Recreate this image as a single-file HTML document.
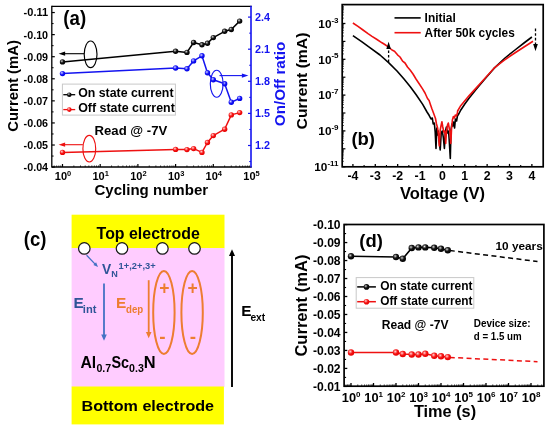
<!DOCTYPE html>
<html lang="en">
<head>
<meta charset="utf-8">
<title>Figure</title>
<style>
html,body{margin:0;padding:0;background:#fff;}
body{width:550px;height:431px;overflow:hidden;}
svg{display:block;font-family:"Liberation Sans", sans-serif;}
</style>
</head>
<body>
<svg width="550" height="431" viewBox="0 0 550 431">
<defs>
<radialGradient id="gk" cx="0.38" cy="0.36" r="0.64"><stop offset="0" stop-color="#ececec"/><stop offset="0.2" stop-color="#808080"/><stop offset="0.5" stop-color="#141414"/><stop offset="1" stop-color="#000"/></radialGradient>
<radialGradient id="gr" cx="0.38" cy="0.36" r="0.64"><stop offset="0" stop-color="#ffe6e6"/><stop offset="0.22" stop-color="#ff8080"/><stop offset="0.55" stop-color="#f41414"/><stop offset="1" stop-color="#e60000"/></radialGradient>
<radialGradient id="gb" cx="0.38" cy="0.36" r="0.64"><stop offset="0" stop-color="#e6e6ff"/><stop offset="0.22" stop-color="#8080ff"/><stop offset="0.55" stop-color="#1414f4"/><stop offset="1" stop-color="#0000e6"/></radialGradient>
</defs>
<rect x="0" y="0" width="550" height="431" fill="#fff"/>

<g id="panel-a">
<line x1="51.80" y1="6.40" x2="251.70" y2="6.40" stroke="#000" stroke-width="1.25"/>
<line x1="51.80" y1="5.80" x2="51.80" y2="167.60" stroke="#000" stroke-width="1.3"/>
<line x1="51.80" y1="167.00" x2="251.70" y2="167.00" stroke="#000" stroke-width="1.3"/>
<line x1="251.00" y1="5.80" x2="251.00" y2="167.60" stroke="#1414f0" stroke-width="1.6"/>
<line x1="51.80" y1="167.10" x2="54.80" y2="167.10" stroke="#000" stroke-width="1.2"/>
<text x="48.10" y="171.00" font-size="11.1" text-anchor="end" fill="#000" font-weight="bold" textLength="24.50" lengthAdjust="spacingAndGlyphs">-0.04</text>
<line x1="51.80" y1="145.02" x2="54.80" y2="145.02" stroke="#000" stroke-width="1.2"/>
<text x="48.10" y="148.92" font-size="11.1" text-anchor="end" fill="#000" font-weight="bold" textLength="24.50" lengthAdjust="spacingAndGlyphs">-0.05</text>
<line x1="51.80" y1="122.94" x2="54.80" y2="122.94" stroke="#000" stroke-width="1.2"/>
<text x="48.10" y="126.84" font-size="11.1" text-anchor="end" fill="#000" font-weight="bold" textLength="24.50" lengthAdjust="spacingAndGlyphs">-0.06</text>
<line x1="51.80" y1="100.86" x2="54.80" y2="100.86" stroke="#000" stroke-width="1.2"/>
<text x="48.10" y="104.76" font-size="11.1" text-anchor="end" fill="#000" font-weight="bold" textLength="24.50" lengthAdjust="spacingAndGlyphs">-0.07</text>
<line x1="51.80" y1="78.78" x2="54.80" y2="78.78" stroke="#000" stroke-width="1.2"/>
<text x="48.10" y="82.68" font-size="11.1" text-anchor="end" fill="#000" font-weight="bold" textLength="24.50" lengthAdjust="spacingAndGlyphs">-0.08</text>
<line x1="51.80" y1="56.70" x2="54.80" y2="56.70" stroke="#000" stroke-width="1.2"/>
<text x="48.10" y="60.60" font-size="11.1" text-anchor="end" fill="#000" font-weight="bold" textLength="24.50" lengthAdjust="spacingAndGlyphs">-0.09</text>
<line x1="51.80" y1="34.62" x2="54.80" y2="34.62" stroke="#000" stroke-width="1.2"/>
<text x="48.10" y="38.52" font-size="11.1" text-anchor="end" fill="#000" font-weight="bold" textLength="24.50" lengthAdjust="spacingAndGlyphs">-0.10</text>
<line x1="51.80" y1="12.54" x2="54.80" y2="12.54" stroke="#000" stroke-width="1.2"/>
<text x="48.10" y="16.44" font-size="11.1" text-anchor="end" fill="#000" font-weight="bold" textLength="24.50" lengthAdjust="spacingAndGlyphs">-0.11</text>
<line x1="51.80" y1="156.06" x2="53.60" y2="156.06" stroke="#000" stroke-width="1.0"/>
<line x1="51.80" y1="133.98" x2="53.60" y2="133.98" stroke="#000" stroke-width="1.0"/>
<line x1="51.80" y1="111.90" x2="53.60" y2="111.90" stroke="#000" stroke-width="1.0"/>
<line x1="51.80" y1="89.82" x2="53.60" y2="89.82" stroke="#000" stroke-width="1.0"/>
<line x1="51.80" y1="67.74" x2="53.60" y2="67.74" stroke="#000" stroke-width="1.0"/>
<line x1="51.80" y1="45.66" x2="53.60" y2="45.66" stroke="#000" stroke-width="1.0"/>
<line x1="51.80" y1="23.58" x2="53.60" y2="23.58" stroke="#000" stroke-width="1.0"/>
<line x1="248.00" y1="145.50" x2="251.00" y2="145.50" stroke="#1414f0" stroke-width="1.2"/>
<text x="255.00" y="149.40" font-size="10.8" text-anchor="start" fill="#1414f0" font-weight="bold">1.2</text>
<line x1="248.00" y1="113.40" x2="251.00" y2="113.40" stroke="#1414f0" stroke-width="1.2"/>
<text x="255.00" y="117.30" font-size="10.8" text-anchor="start" fill="#1414f0" font-weight="bold">1.5</text>
<line x1="248.00" y1="81.30" x2="251.00" y2="81.30" stroke="#1414f0" stroke-width="1.2"/>
<text x="255.00" y="85.20" font-size="10.8" text-anchor="start" fill="#1414f0" font-weight="bold">1.8</text>
<line x1="248.00" y1="49.20" x2="251.00" y2="49.20" stroke="#1414f0" stroke-width="1.2"/>
<text x="255.00" y="53.10" font-size="10.8" text-anchor="start" fill="#1414f0" font-weight="bold">2.1</text>
<line x1="248.00" y1="17.10" x2="251.00" y2="17.10" stroke="#1414f0" stroke-width="1.2"/>
<text x="255.00" y="21.00" font-size="10.8" text-anchor="start" fill="#1414f0" font-weight="bold">2.4</text>
<line x1="249.20" y1="161.55" x2="251.00" y2="161.55" stroke="#1414f0" stroke-width="1.0"/>
<line x1="249.20" y1="129.45" x2="251.00" y2="129.45" stroke="#1414f0" stroke-width="1.0"/>
<line x1="249.20" y1="97.35" x2="251.00" y2="97.35" stroke="#1414f0" stroke-width="1.0"/>
<line x1="249.20" y1="65.25" x2="251.00" y2="65.25" stroke="#1414f0" stroke-width="1.0"/>
<line x1="249.20" y1="33.15" x2="251.00" y2="33.15" stroke="#1414f0" stroke-width="1.0"/>
<line x1="62.50" y1="167.00" x2="62.50" y2="164.00" stroke="#000" stroke-width="1.2"/>
<text x="63.00" y="180.00" font-size="11" text-anchor="middle" fill="#000" font-weight="bold">10<tspan font-size="7.48" dy="-4.5">0</tspan></text>
<line x1="73.85" y1="167.00" x2="73.85" y2="165.40" stroke="#000" stroke-width="0.7"/>
<line x1="80.49" y1="167.00" x2="80.49" y2="165.40" stroke="#000" stroke-width="0.7"/>
<line x1="85.20" y1="167.00" x2="85.20" y2="165.40" stroke="#000" stroke-width="0.7"/>
<line x1="88.85" y1="167.00" x2="88.85" y2="165.40" stroke="#000" stroke-width="0.7"/>
<line x1="91.84" y1="167.00" x2="91.84" y2="165.40" stroke="#000" stroke-width="0.7"/>
<line x1="94.36" y1="167.00" x2="94.36" y2="165.40" stroke="#000" stroke-width="0.7"/>
<line x1="96.55" y1="167.00" x2="96.55" y2="165.40" stroke="#000" stroke-width="0.7"/>
<line x1="98.47" y1="167.00" x2="98.47" y2="165.40" stroke="#000" stroke-width="0.7"/>
<line x1="100.20" y1="167.00" x2="100.20" y2="164.00" stroke="#000" stroke-width="1.2"/>
<text x="100.70" y="180.00" font-size="11" text-anchor="middle" fill="#000" font-weight="bold">10<tspan font-size="7.48" dy="-4.5">1</tspan></text>
<line x1="111.55" y1="167.00" x2="111.55" y2="165.40" stroke="#000" stroke-width="0.7"/>
<line x1="118.19" y1="167.00" x2="118.19" y2="165.40" stroke="#000" stroke-width="0.7"/>
<line x1="122.90" y1="167.00" x2="122.90" y2="165.40" stroke="#000" stroke-width="0.7"/>
<line x1="126.55" y1="167.00" x2="126.55" y2="165.40" stroke="#000" stroke-width="0.7"/>
<line x1="129.54" y1="167.00" x2="129.54" y2="165.40" stroke="#000" stroke-width="0.7"/>
<line x1="132.06" y1="167.00" x2="132.06" y2="165.40" stroke="#000" stroke-width="0.7"/>
<line x1="134.25" y1="167.00" x2="134.25" y2="165.40" stroke="#000" stroke-width="0.7"/>
<line x1="136.17" y1="167.00" x2="136.17" y2="165.40" stroke="#000" stroke-width="0.7"/>
<line x1="137.90" y1="167.00" x2="137.90" y2="164.00" stroke="#000" stroke-width="1.2"/>
<text x="138.40" y="180.00" font-size="11" text-anchor="middle" fill="#000" font-weight="bold">10<tspan font-size="7.48" dy="-4.5">2</tspan></text>
<line x1="149.25" y1="167.00" x2="149.25" y2="165.40" stroke="#000" stroke-width="0.7"/>
<line x1="155.89" y1="167.00" x2="155.89" y2="165.40" stroke="#000" stroke-width="0.7"/>
<line x1="160.60" y1="167.00" x2="160.60" y2="165.40" stroke="#000" stroke-width="0.7"/>
<line x1="164.25" y1="167.00" x2="164.25" y2="165.40" stroke="#000" stroke-width="0.7"/>
<line x1="167.24" y1="167.00" x2="167.24" y2="165.40" stroke="#000" stroke-width="0.7"/>
<line x1="169.76" y1="167.00" x2="169.76" y2="165.40" stroke="#000" stroke-width="0.7"/>
<line x1="171.95" y1="167.00" x2="171.95" y2="165.40" stroke="#000" stroke-width="0.7"/>
<line x1="173.87" y1="167.00" x2="173.87" y2="165.40" stroke="#000" stroke-width="0.7"/>
<line x1="175.60" y1="167.00" x2="175.60" y2="164.00" stroke="#000" stroke-width="1.2"/>
<text x="176.10" y="180.00" font-size="11" text-anchor="middle" fill="#000" font-weight="bold">10<tspan font-size="7.48" dy="-4.5">3</tspan></text>
<line x1="186.95" y1="167.00" x2="186.95" y2="165.40" stroke="#000" stroke-width="0.7"/>
<line x1="193.59" y1="167.00" x2="193.59" y2="165.40" stroke="#000" stroke-width="0.7"/>
<line x1="198.30" y1="167.00" x2="198.30" y2="165.40" stroke="#000" stroke-width="0.7"/>
<line x1="201.95" y1="167.00" x2="201.95" y2="165.40" stroke="#000" stroke-width="0.7"/>
<line x1="204.94" y1="167.00" x2="204.94" y2="165.40" stroke="#000" stroke-width="0.7"/>
<line x1="207.46" y1="167.00" x2="207.46" y2="165.40" stroke="#000" stroke-width="0.7"/>
<line x1="209.65" y1="167.00" x2="209.65" y2="165.40" stroke="#000" stroke-width="0.7"/>
<line x1="211.57" y1="167.00" x2="211.57" y2="165.40" stroke="#000" stroke-width="0.7"/>
<line x1="213.30" y1="167.00" x2="213.30" y2="164.00" stroke="#000" stroke-width="1.2"/>
<text x="213.80" y="180.00" font-size="11" text-anchor="middle" fill="#000" font-weight="bold">10<tspan font-size="7.48" dy="-4.5">4</tspan></text>
<line x1="224.65" y1="167.00" x2="224.65" y2="165.40" stroke="#000" stroke-width="0.7"/>
<line x1="231.29" y1="167.00" x2="231.29" y2="165.40" stroke="#000" stroke-width="0.7"/>
<line x1="236.00" y1="167.00" x2="236.00" y2="165.40" stroke="#000" stroke-width="0.7"/>
<line x1="239.65" y1="167.00" x2="239.65" y2="165.40" stroke="#000" stroke-width="0.7"/>
<line x1="242.64" y1="167.00" x2="242.64" y2="165.40" stroke="#000" stroke-width="0.7"/>
<line x1="245.16" y1="167.00" x2="245.16" y2="165.40" stroke="#000" stroke-width="0.7"/>
<line x1="247.35" y1="167.00" x2="247.35" y2="165.40" stroke="#000" stroke-width="0.7"/>
<line x1="249.27" y1="167.00" x2="249.27" y2="165.40" stroke="#000" stroke-width="0.7"/>
<text x="251.50" y="180.00" font-size="11" text-anchor="middle" fill="#000" font-weight="bold">10<tspan font-size="7.48" dy="-4.5">5</tspan></text>
<line x1="54.14" y1="167.00" x2="54.14" y2="165.40" stroke="#000" stroke-width="0.7"/>
<line x1="56.66" y1="167.00" x2="56.66" y2="165.40" stroke="#000" stroke-width="0.7"/>
<line x1="58.85" y1="167.00" x2="58.85" y2="165.40" stroke="#000" stroke-width="0.7"/>
<line x1="60.77" y1="167.00" x2="60.77" y2="165.40" stroke="#000" stroke-width="0.7"/>
<text x="17.60" y="85.90" font-size="15.2" text-anchor="middle" fill="#000" font-weight="bold" transform="rotate(-90 17.60 85.90)" textLength="91.60" lengthAdjust="spacingAndGlyphs">Current (mA)</text>
<text x="151.30" y="195.30" font-size="15" text-anchor="middle" fill="#000" font-weight="bold" textLength="113.60" lengthAdjust="spacingAndGlyphs">Cycling number</text>
<text x="285.20" y="83.90" font-size="14.8" text-anchor="middle" fill="#1414f0" font-weight="bold" transform="rotate(-90 285.20 83.90)" textLength="84.60" lengthAdjust="spacingAndGlyphs">On/Off ratio</text>
<polyline points="62.50,61.90 175.60,51.20 186.95,52.40 193.59,42.50 201.95,44.80 207.46,43.30 213.30,37.60 224.65,31.30 231.29,29.50 239.65,21.10" fill="none" stroke="#000" stroke-width="1.5" stroke-linejoin="round"/>
<circle cx="62.50" cy="61.90" r="2.7" fill="url(#gk)"/>
<circle cx="175.60" cy="51.20" r="2.7" fill="url(#gk)"/>
<circle cx="186.95" cy="52.40" r="2.7" fill="url(#gk)"/>
<circle cx="193.59" cy="42.50" r="2.7" fill="url(#gk)"/>
<circle cx="201.95" cy="44.80" r="2.7" fill="url(#gk)"/>
<circle cx="207.46" cy="43.30" r="2.7" fill="url(#gk)"/>
<circle cx="213.30" cy="37.60" r="2.7" fill="url(#gk)"/>
<circle cx="224.65" cy="31.30" r="2.7" fill="url(#gk)"/>
<circle cx="231.29" cy="29.50" r="2.7" fill="url(#gk)"/>
<circle cx="239.65" cy="21.10" r="2.7" fill="url(#gk)"/>
<polyline points="62.50,73.60 175.60,68.00 186.95,68.80 193.59,60.90 201.95,55.80 207.46,72.80 213.30,79.70 224.65,83.80 231.29,102.20 239.65,98.40" fill="none" stroke="#1414f0" stroke-width="1.5" stroke-linejoin="round"/>
<circle cx="62.50" cy="73.60" r="2.7" fill="url(#gb)"/>
<circle cx="175.60" cy="68.00" r="2.7" fill="url(#gb)"/>
<circle cx="186.95" cy="68.80" r="2.7" fill="url(#gb)"/>
<circle cx="193.59" cy="60.90" r="2.7" fill="url(#gb)"/>
<circle cx="201.95" cy="55.80" r="2.7" fill="url(#gb)"/>
<circle cx="207.46" cy="72.80" r="2.7" fill="url(#gb)"/>
<circle cx="213.30" cy="79.70" r="2.7" fill="url(#gb)"/>
<circle cx="224.65" cy="83.80" r="2.7" fill="url(#gb)"/>
<circle cx="231.29" cy="102.20" r="2.7" fill="url(#gb)"/>
<circle cx="239.65" cy="98.40" r="2.7" fill="url(#gb)"/>
<polyline points="62.50,152.40 175.60,149.40 186.95,149.60 193.59,148.60 201.95,152.40 207.46,142.50 213.30,135.60 224.65,129.20 231.29,114.90 239.65,112.60" fill="none" stroke="#ee1111" stroke-width="1.5" stroke-linejoin="round"/>
<circle cx="62.50" cy="152.40" r="2.7" fill="url(#gr)"/>
<circle cx="175.60" cy="149.40" r="2.7" fill="url(#gr)"/>
<circle cx="186.95" cy="149.60" r="2.7" fill="url(#gr)"/>
<circle cx="193.59" cy="148.60" r="2.7" fill="url(#gr)"/>
<circle cx="201.95" cy="152.40" r="2.7" fill="url(#gr)"/>
<circle cx="207.46" cy="142.50" r="2.7" fill="url(#gr)"/>
<circle cx="213.30" cy="135.60" r="2.7" fill="url(#gr)"/>
<circle cx="224.65" cy="129.20" r="2.7" fill="url(#gr)"/>
<circle cx="231.29" cy="114.90" r="2.7" fill="url(#gr)"/>
<circle cx="239.65" cy="112.60" r="2.7" fill="url(#gr)"/>
<ellipse cx="90.6" cy="54.3" rx="6.4" ry="13.3" fill="none" stroke="#000" stroke-width="1.15"/>
<line x1="84.20" y1="53.70" x2="62.00" y2="53.70" stroke="#000" stroke-width="1.1"/>
<polygon points="58.60,53.70 65.10,51.60 65.10,55.80" fill="#000"/>
<ellipse cx="89.3" cy="148.7" rx="6.4" ry="13.3" fill="none" stroke="#ee1111" stroke-width="1.15"/>
<line x1="82.90" y1="144.70" x2="62.00" y2="144.70" stroke="#ee1111" stroke-width="1.1"/>
<polygon points="58.60,144.70 65.10,142.60 65.10,146.80" fill="#ee1111"/>
<ellipse cx="216.7" cy="83.7" rx="6.4" ry="13.5" fill="none" stroke="#1414f0" stroke-width="1.15"/>
<line x1="219.50" y1="75.60" x2="244.00" y2="75.60" stroke="#1414f0" stroke-width="1.1"/>
<polygon points="248.40,75.60 241.90,77.70 241.90,73.50" fill="#1414f0"/>
<rect x="62.4" y="84.1" width="113.0" height="31.0" fill="#fff" stroke="#c8c8c8" stroke-width="1"/>
<line x1="63.30" y1="94.70" x2="75.20" y2="94.70" stroke="#000" stroke-width="1.3"/>
<circle cx="69.30" cy="94.70" r="2.3" fill="url(#gk)"/>
<text x="78.20" y="96.90" font-size="12.2" text-anchor="start" fill="#000" font-weight="bold" textLength="95.30" lengthAdjust="spacingAndGlyphs">On state current</text>
<line x1="63.30" y1="109.60" x2="75.20" y2="109.60" stroke="#ee1111" stroke-width="1.3"/>
<circle cx="69.30" cy="109.60" r="2.3" fill="url(#gr)"/>
<text x="78.20" y="111.80" font-size="12.2" text-anchor="start" fill="#000" font-weight="bold" textLength="96.60" lengthAdjust="spacingAndGlyphs">Off state current</text>
<text x="130.90" y="134.80" font-size="12.8" text-anchor="middle" fill="#000" font-weight="bold" textLength="72.80" lengthAdjust="spacingAndGlyphs">Read @ -7V</text>
<text x="63.30" y="25.20" font-size="19.8" text-anchor="start" fill="#000" font-weight="bold" textLength="22.80" lengthAdjust="spacingAndGlyphs">(a)</text>
</g>
<g id="panel-b">
<rect x="342.2" y="4.6" width="201.00000000000006" height="162.20000000000002" fill="none" stroke="#000" stroke-width="1.7"/>
<line x1="342.20" y1="166.70" x2="345.40" y2="166.70" stroke="#000" stroke-width="1.3"/>
<text x="338.60" y="171.00" font-size="11.8" text-anchor="end" fill="#000" font-weight="bold">10<tspan font-size="8.02" dy="-5.2">-11</tspan></text>
<line x1="342.20" y1="161.31" x2="343.90" y2="161.31" stroke="#000" stroke-width="0.7"/>
<line x1="342.20" y1="158.16" x2="343.90" y2="158.16" stroke="#000" stroke-width="0.7"/>
<line x1="342.20" y1="155.92" x2="343.90" y2="155.92" stroke="#000" stroke-width="0.7"/>
<line x1="342.20" y1="154.19" x2="343.90" y2="154.19" stroke="#000" stroke-width="0.7"/>
<line x1="342.20" y1="152.77" x2="343.90" y2="152.77" stroke="#000" stroke-width="0.7"/>
<line x1="342.20" y1="151.57" x2="343.90" y2="151.57" stroke="#000" stroke-width="0.7"/>
<line x1="342.20" y1="150.53" x2="343.90" y2="150.53" stroke="#000" stroke-width="0.7"/>
<line x1="342.20" y1="149.62" x2="343.90" y2="149.62" stroke="#000" stroke-width="0.7"/>
<line x1="342.20" y1="148.80" x2="345.40" y2="148.80" stroke="#000" stroke-width="1.2"/>
<line x1="342.20" y1="143.41" x2="343.90" y2="143.41" stroke="#000" stroke-width="0.7"/>
<line x1="342.20" y1="140.26" x2="343.90" y2="140.26" stroke="#000" stroke-width="0.7"/>
<line x1="342.20" y1="138.02" x2="343.90" y2="138.02" stroke="#000" stroke-width="0.7"/>
<line x1="342.20" y1="136.29" x2="343.90" y2="136.29" stroke="#000" stroke-width="0.7"/>
<line x1="342.20" y1="134.87" x2="343.90" y2="134.87" stroke="#000" stroke-width="0.7"/>
<line x1="342.20" y1="133.67" x2="343.90" y2="133.67" stroke="#000" stroke-width="0.7"/>
<line x1="342.20" y1="132.63" x2="343.90" y2="132.63" stroke="#000" stroke-width="0.7"/>
<line x1="342.20" y1="131.72" x2="343.90" y2="131.72" stroke="#000" stroke-width="0.7"/>
<line x1="342.20" y1="130.90" x2="345.40" y2="130.90" stroke="#000" stroke-width="1.3"/>
<text x="338.60" y="135.20" font-size="11.8" text-anchor="end" fill="#000" font-weight="bold">10<tspan font-size="8.02" dy="-5.2">-9</tspan></text>
<line x1="342.20" y1="125.51" x2="343.90" y2="125.51" stroke="#000" stroke-width="0.7"/>
<line x1="342.20" y1="122.36" x2="343.90" y2="122.36" stroke="#000" stroke-width="0.7"/>
<line x1="342.20" y1="120.12" x2="343.90" y2="120.12" stroke="#000" stroke-width="0.7"/>
<line x1="342.20" y1="118.39" x2="343.90" y2="118.39" stroke="#000" stroke-width="0.7"/>
<line x1="342.20" y1="116.97" x2="343.90" y2="116.97" stroke="#000" stroke-width="0.7"/>
<line x1="342.20" y1="115.77" x2="343.90" y2="115.77" stroke="#000" stroke-width="0.7"/>
<line x1="342.20" y1="114.73" x2="343.90" y2="114.73" stroke="#000" stroke-width="0.7"/>
<line x1="342.20" y1="113.82" x2="343.90" y2="113.82" stroke="#000" stroke-width="0.7"/>
<line x1="342.20" y1="113.00" x2="345.40" y2="113.00" stroke="#000" stroke-width="1.2"/>
<line x1="342.20" y1="107.61" x2="343.90" y2="107.61" stroke="#000" stroke-width="0.7"/>
<line x1="342.20" y1="104.46" x2="343.90" y2="104.46" stroke="#000" stroke-width="0.7"/>
<line x1="342.20" y1="102.22" x2="343.90" y2="102.22" stroke="#000" stroke-width="0.7"/>
<line x1="342.20" y1="100.49" x2="343.90" y2="100.49" stroke="#000" stroke-width="0.7"/>
<line x1="342.20" y1="99.07" x2="343.90" y2="99.07" stroke="#000" stroke-width="0.7"/>
<line x1="342.20" y1="97.87" x2="343.90" y2="97.87" stroke="#000" stroke-width="0.7"/>
<line x1="342.20" y1="96.83" x2="343.90" y2="96.83" stroke="#000" stroke-width="0.7"/>
<line x1="342.20" y1="95.92" x2="343.90" y2="95.92" stroke="#000" stroke-width="0.7"/>
<line x1="342.20" y1="95.10" x2="345.40" y2="95.10" stroke="#000" stroke-width="1.3"/>
<text x="338.60" y="99.40" font-size="11.8" text-anchor="end" fill="#000" font-weight="bold">10<tspan font-size="8.02" dy="-5.2">-7</tspan></text>
<line x1="342.20" y1="89.71" x2="343.90" y2="89.71" stroke="#000" stroke-width="0.7"/>
<line x1="342.20" y1="86.56" x2="343.90" y2="86.56" stroke="#000" stroke-width="0.7"/>
<line x1="342.20" y1="84.32" x2="343.90" y2="84.32" stroke="#000" stroke-width="0.7"/>
<line x1="342.20" y1="82.59" x2="343.90" y2="82.59" stroke="#000" stroke-width="0.7"/>
<line x1="342.20" y1="81.17" x2="343.90" y2="81.17" stroke="#000" stroke-width="0.7"/>
<line x1="342.20" y1="79.97" x2="343.90" y2="79.97" stroke="#000" stroke-width="0.7"/>
<line x1="342.20" y1="78.93" x2="343.90" y2="78.93" stroke="#000" stroke-width="0.7"/>
<line x1="342.20" y1="78.02" x2="343.90" y2="78.02" stroke="#000" stroke-width="0.7"/>
<line x1="342.20" y1="77.20" x2="345.40" y2="77.20" stroke="#000" stroke-width="1.2"/>
<line x1="342.20" y1="71.81" x2="343.90" y2="71.81" stroke="#000" stroke-width="0.7"/>
<line x1="342.20" y1="68.66" x2="343.90" y2="68.66" stroke="#000" stroke-width="0.7"/>
<line x1="342.20" y1="66.42" x2="343.90" y2="66.42" stroke="#000" stroke-width="0.7"/>
<line x1="342.20" y1="64.69" x2="343.90" y2="64.69" stroke="#000" stroke-width="0.7"/>
<line x1="342.20" y1="63.27" x2="343.90" y2="63.27" stroke="#000" stroke-width="0.7"/>
<line x1="342.20" y1="62.07" x2="343.90" y2="62.07" stroke="#000" stroke-width="0.7"/>
<line x1="342.20" y1="61.03" x2="343.90" y2="61.03" stroke="#000" stroke-width="0.7"/>
<line x1="342.20" y1="60.12" x2="343.90" y2="60.12" stroke="#000" stroke-width="0.7"/>
<line x1="342.20" y1="59.30" x2="345.40" y2="59.30" stroke="#000" stroke-width="1.3"/>
<text x="338.60" y="63.60" font-size="11.8" text-anchor="end" fill="#000" font-weight="bold">10<tspan font-size="8.02" dy="-5.2">-5</tspan></text>
<line x1="342.20" y1="53.91" x2="343.90" y2="53.91" stroke="#000" stroke-width="0.7"/>
<line x1="342.20" y1="50.76" x2="343.90" y2="50.76" stroke="#000" stroke-width="0.7"/>
<line x1="342.20" y1="48.52" x2="343.90" y2="48.52" stroke="#000" stroke-width="0.7"/>
<line x1="342.20" y1="46.79" x2="343.90" y2="46.79" stroke="#000" stroke-width="0.7"/>
<line x1="342.20" y1="45.37" x2="343.90" y2="45.37" stroke="#000" stroke-width="0.7"/>
<line x1="342.20" y1="44.17" x2="343.90" y2="44.17" stroke="#000" stroke-width="0.7"/>
<line x1="342.20" y1="43.13" x2="343.90" y2="43.13" stroke="#000" stroke-width="0.7"/>
<line x1="342.20" y1="42.22" x2="343.90" y2="42.22" stroke="#000" stroke-width="0.7"/>
<line x1="342.20" y1="41.40" x2="345.40" y2="41.40" stroke="#000" stroke-width="1.2"/>
<line x1="342.20" y1="36.01" x2="343.90" y2="36.01" stroke="#000" stroke-width="0.7"/>
<line x1="342.20" y1="32.86" x2="343.90" y2="32.86" stroke="#000" stroke-width="0.7"/>
<line x1="342.20" y1="30.62" x2="343.90" y2="30.62" stroke="#000" stroke-width="0.7"/>
<line x1="342.20" y1="28.89" x2="343.90" y2="28.89" stroke="#000" stroke-width="0.7"/>
<line x1="342.20" y1="27.47" x2="343.90" y2="27.47" stroke="#000" stroke-width="0.7"/>
<line x1="342.20" y1="26.27" x2="343.90" y2="26.27" stroke="#000" stroke-width="0.7"/>
<line x1="342.20" y1="25.23" x2="343.90" y2="25.23" stroke="#000" stroke-width="0.7"/>
<line x1="342.20" y1="24.32" x2="343.90" y2="24.32" stroke="#000" stroke-width="0.7"/>
<line x1="342.20" y1="23.50" x2="345.40" y2="23.50" stroke="#000" stroke-width="1.3"/>
<text x="338.60" y="27.80" font-size="11.8" text-anchor="end" fill="#000" font-weight="bold">10<tspan font-size="8.02" dy="-5.2">-3</tspan></text>
<line x1="342.20" y1="18.11" x2="343.90" y2="18.11" stroke="#000" stroke-width="0.7"/>
<line x1="342.20" y1="14.96" x2="343.90" y2="14.96" stroke="#000" stroke-width="0.7"/>
<line x1="342.20" y1="12.72" x2="343.90" y2="12.72" stroke="#000" stroke-width="0.7"/>
<line x1="342.20" y1="10.99" x2="343.90" y2="10.99" stroke="#000" stroke-width="0.7"/>
<line x1="342.20" y1="9.57" x2="343.90" y2="9.57" stroke="#000" stroke-width="0.7"/>
<line x1="342.20" y1="8.37" x2="343.90" y2="8.37" stroke="#000" stroke-width="0.7"/>
<line x1="342.20" y1="7.33" x2="343.90" y2="7.33" stroke="#000" stroke-width="0.7"/>
<line x1="342.20" y1="6.42" x2="343.90" y2="6.42" stroke="#000" stroke-width="0.7"/>
<line x1="352.92" y1="166.80" x2="352.92" y2="163.90" stroke="#000" stroke-width="1.3"/>
<text x="352.92" y="180.40" font-size="12.3" text-anchor="middle" fill="#000" font-weight="bold">-4</text>
<line x1="375.29" y1="166.80" x2="375.29" y2="163.90" stroke="#000" stroke-width="1.3"/>
<text x="375.29" y="180.40" font-size="12.3" text-anchor="middle" fill="#000" font-weight="bold">-3</text>
<line x1="397.66" y1="166.80" x2="397.66" y2="163.90" stroke="#000" stroke-width="1.3"/>
<text x="397.66" y="180.40" font-size="12.3" text-anchor="middle" fill="#000" font-weight="bold">-2</text>
<line x1="420.03" y1="166.80" x2="420.03" y2="163.90" stroke="#000" stroke-width="1.3"/>
<text x="420.03" y="180.40" font-size="12.3" text-anchor="middle" fill="#000" font-weight="bold">-1</text>
<line x1="442.40" y1="166.80" x2="442.40" y2="163.90" stroke="#000" stroke-width="1.3"/>
<text x="442.40" y="180.40" font-size="12.3" text-anchor="middle" fill="#000" font-weight="bold">0</text>
<line x1="464.77" y1="166.80" x2="464.77" y2="163.90" stroke="#000" stroke-width="1.3"/>
<text x="464.77" y="180.40" font-size="12.3" text-anchor="middle" fill="#000" font-weight="bold">1</text>
<line x1="487.14" y1="166.80" x2="487.14" y2="163.90" stroke="#000" stroke-width="1.3"/>
<text x="487.14" y="180.40" font-size="12.3" text-anchor="middle" fill="#000" font-weight="bold">2</text>
<line x1="509.51" y1="166.80" x2="509.51" y2="163.90" stroke="#000" stroke-width="1.3"/>
<text x="509.51" y="180.40" font-size="12.3" text-anchor="middle" fill="#000" font-weight="bold">3</text>
<line x1="531.88" y1="166.80" x2="531.88" y2="163.90" stroke="#000" stroke-width="1.3"/>
<text x="531.88" y="180.40" font-size="12.3" text-anchor="middle" fill="#000" font-weight="bold">4</text>
<line x1="364.10" y1="166.80" x2="364.10" y2="165.00" stroke="#000" stroke-width="1.1"/>
<line x1="386.47" y1="166.80" x2="386.47" y2="165.00" stroke="#000" stroke-width="1.1"/>
<line x1="408.84" y1="166.80" x2="408.84" y2="165.00" stroke="#000" stroke-width="1.1"/>
<line x1="431.21" y1="166.80" x2="431.21" y2="165.00" stroke="#000" stroke-width="1.1"/>
<line x1="453.58" y1="166.80" x2="453.58" y2="165.00" stroke="#000" stroke-width="1.1"/>
<line x1="475.95" y1="166.80" x2="475.95" y2="165.00" stroke="#000" stroke-width="1.1"/>
<line x1="498.32" y1="166.80" x2="498.32" y2="165.00" stroke="#000" stroke-width="1.1"/>
<line x1="520.69" y1="166.80" x2="520.69" y2="165.00" stroke="#000" stroke-width="1.1"/>
<text x="306.50" y="81.00" font-size="15.4" text-anchor="middle" fill="#000" font-weight="bold" transform="rotate(-90 306.50 81.00)" textLength="96.80" lengthAdjust="spacingAndGlyphs">Current (mA)</text>
<text x="442.40" y="198.70" font-size="16.3" text-anchor="middle" fill="#000" font-weight="bold" textLength="85.00" lengthAdjust="spacingAndGlyphs">Voltage (V)</text>
<polyline points="352.90,35.70 362.00,41.80 370.20,47.80 380.00,55.00 388.60,62.60 397.00,71.00 404.00,79.00 410.30,86.70 416.00,94.50 422.70,104.40 427.00,112.00 429.10,115.30 431.00,119.00 432.30,118.00 433.20,124.00 434.30,123.00 435.20,132.00 436.00,148.50 436.80,128.00 437.60,135.00 438.20,131.00 439.00,139.00 440.20,150.00 441.20,133.00 442.30,131.00 443.40,138.00 444.40,148.50 445.30,132.00 446.40,127.00 447.60,133.00 448.60,131.00 449.40,143.00 450.30,158.40 451.00,130.00 451.90,124.00 452.80,126.00 453.60,122.00 454.60,128.00 455.40,119.00 456.60,121.00 457.40,116.00 459.00,113.50 461.00,109.70 464.80,104.00 469.20,98.00 476.00,89.50 484.00,80.00 494.00,68.40 505.00,58.00 515.00,50.00 524.00,43.00 531.90,37.00" fill="none" stroke="#000" stroke-width="1.6" stroke-linejoin="round"/>
<polyline points="352.90,23.00 358.00,26.40 363.00,30.00 368.00,33.60 372.00,36.30 377.00,39.50 382.00,42.80 386.00,45.30 388.60,47.20 392.00,50.00 394.50,51.20 397.50,54.80 400.00,57.00 402.60,61.20 405.00,63.00 407.50,67.00 410.30,70.20 413.00,74.00 416.00,79.00 419.00,83.50 422.70,89.10 425.00,93.00 427.50,98.50 429.10,100.50 430.40,104.40 432.00,109.00 433.50,113.00 435.50,118.50 436.50,124.00 437.60,128.00 438.40,134.00 439.30,146.00 440.20,130.00 441.20,125.00 441.90,121.70 442.80,127.00 443.80,132.00 444.80,131.00 445.70,143.40 446.60,130.00 447.50,125.00 448.30,123.00 449.20,128.00 450.00,132.00 450.80,143.40 451.60,128.00 452.40,120.00 453.40,116.60 454.40,118.00 455.30,115.00 456.40,116.00 457.40,113.00 457.60,111.00 460.30,106.30 463.80,102.00 469.20,95.60 476.50,87.60 485.00,78.20 494.00,68.20 504.00,60.30 514.00,53.50 524.00,47.00 533.00,41.30" fill="none" stroke="#ee1111" stroke-width="1.6" stroke-linejoin="round"/>
<line x1="388.60" y1="62.20" x2="388.60" y2="47.00" stroke="#000" stroke-width="1.3" stroke-dasharray="2.6,2"/>
<polygon points="388.60,41.80 390.90,49.00 386.30,49.00" fill="#000"/>
<line x1="535.50" y1="28.60" x2="535.50" y2="45.00" stroke="#000" stroke-width="1.3" stroke-dasharray="2.6,2"/>
<polygon points="535.50,51.20 533.20,44.00 537.80,44.00" fill="#000"/>
<line x1="394.50" y1="17.90" x2="420.70" y2="17.90" stroke="#000" stroke-width="1.6"/>
<line x1="394.50" y1="32.70" x2="420.70" y2="32.70" stroke="#ee1111" stroke-width="1.6"/>
<text x="424.60" y="22.20" font-size="12.2" text-anchor="start" fill="#000" font-weight="bold" textLength="31.20" lengthAdjust="spacingAndGlyphs">Initial</text>
<text x="424.60" y="37.00" font-size="12.2" text-anchor="start" fill="#000" font-weight="bold" textLength="90.20" lengthAdjust="spacingAndGlyphs">After 50k cycles</text>
<text x="351.40" y="145.40" font-size="18.3" text-anchor="start" fill="#000" font-weight="bold" textLength="23.60" lengthAdjust="spacingAndGlyphs">(b)</text>
</g>
<g id="panel-c">
<rect x="71.6" y="214.7" width="152.9" height="33.6" fill="#ffff00"/>
<rect x="71.6" y="248.05" width="152.9" height="139.0" fill="#ffccff"/>
<rect x="71.6" y="386.5" width="152.3" height="37.9" fill="#ffff00"/>
<text x="148.20" y="239.00" font-size="16.2" text-anchor="middle" fill="#000" font-weight="bold" textLength="103.20" lengthAdjust="spacingAndGlyphs">Top electrode</text>
<text x="147.80" y="410.90" font-size="15.5" text-anchor="middle" fill="#000" font-weight="bold" textLength="132.60" lengthAdjust="spacingAndGlyphs">Bottom electrode</text>
<circle cx="84.3" cy="248.4" r="5.75" fill="#fff" stroke="#1a1a1a" stroke-width="1.25"/>
<circle cx="122.0" cy="248.4" r="5.75" fill="#fff" stroke="#1a1a1a" stroke-width="1.25"/>
<circle cx="162.4" cy="248.4" r="5.75" fill="#fff" stroke="#1a1a1a" stroke-width="1.25"/>
<circle cx="194.5" cy="248.4" r="5.75" fill="#fff" stroke="#1a1a1a" stroke-width="1.25"/>
<line x1="86.60" y1="255.30" x2="95.60" y2="264.60" stroke="#4472c4" stroke-width="1.3"/>
<polygon points="98.00,266.90 93.40,264.99 96.09,262.30" fill="#4472c4"/>
<text font-weight="bold" fill="#2f5597" text-anchor="start"><tspan x="101.9" y="273.6" font-size="14.3" textLength="9.2" lengthAdjust="spacingAndGlyphs">V</tspan><tspan x="111.3" y="277.1" font-size="9.1">N</tspan><tspan x="118.6" y="268.9" font-size="9" textLength="37" lengthAdjust="spacingAndGlyphs">1+,2+,3+</tspan></text>
<text font-weight="bold" fill="#2f5597" text-anchor="start"><tspan x="73.4" y="308.1" font-size="15.4">E</tspan><tspan x="82.8" y="312.8" font-size="10" textLength="13.6" lengthAdjust="spacingAndGlyphs">int</tspan></text>
<line x1="104.00" y1="283.60" x2="104.00" y2="335.50" stroke="#4472c4" stroke-width="1.8"/>
<polygon points="104.00,340.80 101.20,334.40 106.80,334.40" fill="#4472c4"/>
<text font-weight="bold" fill="#ed7d31" text-anchor="start"><tspan x="116.0" y="308.1" font-size="15.4">E</tspan><tspan x="126.0" y="312.6" font-size="10" textLength="17.2" lengthAdjust="spacingAndGlyphs">dep</tspan></text>
<line x1="148.70" y1="280.20" x2="148.70" y2="333.00" stroke="#ed7d31" stroke-width="1.8"/>
<polygon points="148.70,338.30 145.90,331.90 151.50,331.90" fill="#ed7d31"/>
<ellipse cx="163.9" cy="312.4" rx="10.7" ry="41.5" fill="none" stroke="#ed7d31" stroke-width="2.0"/>
<ellipse cx="192.1" cy="312.4" rx="10.7" ry="41.5" fill="none" stroke="#ed7d31" stroke-width="2.0"/>
<text x="164.40" y="293.70" font-size="17.5" text-anchor="middle" fill="#ed7d31" font-weight="bold">+</text>
<text x="192.50" y="293.70" font-size="17.5" text-anchor="middle" fill="#ed7d31" font-weight="bold">+</text>
<text x="162.30" y="342.90" font-size="19" text-anchor="middle" fill="#ed7d31" font-weight="bold">-</text>
<text x="193.00" y="342.90" font-size="19" text-anchor="middle" fill="#ed7d31" font-weight="bold">-</text>
<text font-weight="bold" fill="#000" text-anchor="start"><tspan x="80.4" y="367.8" font-size="16.4" textLength="15.8" lengthAdjust="spacingAndGlyphs">Al</tspan><tspan x="96.4" y="372.2" font-size="10.8" textLength="14.8" lengthAdjust="spacingAndGlyphs">0.7</tspan><tspan x="111.4" y="367.8" font-size="16.4" textLength="17.6" lengthAdjust="spacingAndGlyphs">Sc</tspan><tspan x="129.0" y="372.2" font-size="10.8" textLength="14.8" lengthAdjust="spacingAndGlyphs">0.3</tspan><tspan x="143.8" y="367.8" font-size="16.4">N</tspan></text>
<line x1="232.00" y1="254.00" x2="232.00" y2="387.00" stroke="#000" stroke-width="1.9"/>
<polygon points="232.00,249.30 235.00,255.90 229.00,255.90" fill="#000"/>
<text font-weight="bold" fill="#000" text-anchor="start"><tspan x="241.2" y="315.9" font-size="15.4">E</tspan><tspan x="250.4" y="320.5" font-size="10" textLength="14.8" lengthAdjust="spacingAndGlyphs">ext</tspan></text>
<text x="23.80" y="246.00" font-size="19.4" text-anchor="start" fill="#000" font-weight="bold" textLength="22.60" lengthAdjust="spacingAndGlyphs">(c)</text>
</g>
<g id="panel-d">
<rect x="344.1" y="224.5" width="199.79999999999995" height="161.7" fill="none" stroke="#000" stroke-width="1.7"/>
<line x1="344.10" y1="386.40" x2="347.30" y2="386.40" stroke="#000" stroke-width="1.3"/>
<text x="340.60" y="390.50" font-size="12" text-anchor="end" fill="#000" font-weight="bold" textLength="27.60" lengthAdjust="spacingAndGlyphs">-0.01</text>
<line x1="344.10" y1="377.41" x2="346.10" y2="377.41" stroke="#000" stroke-width="1.1"/>
<line x1="344.10" y1="368.42" x2="347.30" y2="368.42" stroke="#000" stroke-width="1.3"/>
<text x="340.60" y="372.52" font-size="12" text-anchor="end" fill="#000" font-weight="bold" textLength="27.60" lengthAdjust="spacingAndGlyphs">-0.02</text>
<line x1="344.10" y1="359.43" x2="346.10" y2="359.43" stroke="#000" stroke-width="1.1"/>
<line x1="344.10" y1="350.44" x2="347.30" y2="350.44" stroke="#000" stroke-width="1.3"/>
<text x="340.60" y="354.54" font-size="12" text-anchor="end" fill="#000" font-weight="bold" textLength="27.60" lengthAdjust="spacingAndGlyphs">-0.03</text>
<line x1="344.10" y1="341.45" x2="346.10" y2="341.45" stroke="#000" stroke-width="1.1"/>
<line x1="344.10" y1="332.46" x2="347.30" y2="332.46" stroke="#000" stroke-width="1.3"/>
<text x="340.60" y="336.56" font-size="12" text-anchor="end" fill="#000" font-weight="bold" textLength="27.60" lengthAdjust="spacingAndGlyphs">-0.04</text>
<line x1="344.10" y1="323.47" x2="346.10" y2="323.47" stroke="#000" stroke-width="1.1"/>
<line x1="344.10" y1="314.48" x2="347.30" y2="314.48" stroke="#000" stroke-width="1.3"/>
<text x="340.60" y="318.58" font-size="12" text-anchor="end" fill="#000" font-weight="bold" textLength="27.60" lengthAdjust="spacingAndGlyphs">-0.05</text>
<line x1="344.10" y1="305.49" x2="346.10" y2="305.49" stroke="#000" stroke-width="1.1"/>
<line x1="344.10" y1="296.50" x2="347.30" y2="296.50" stroke="#000" stroke-width="1.3"/>
<text x="340.60" y="300.60" font-size="12" text-anchor="end" fill="#000" font-weight="bold" textLength="27.60" lengthAdjust="spacingAndGlyphs">-0.06</text>
<line x1="344.10" y1="287.51" x2="346.10" y2="287.51" stroke="#000" stroke-width="1.1"/>
<line x1="344.10" y1="278.52" x2="347.30" y2="278.52" stroke="#000" stroke-width="1.3"/>
<text x="340.60" y="282.62" font-size="12" text-anchor="end" fill="#000" font-weight="bold" textLength="27.60" lengthAdjust="spacingAndGlyphs">-0.07</text>
<line x1="344.10" y1="269.53" x2="346.10" y2="269.53" stroke="#000" stroke-width="1.1"/>
<line x1="344.10" y1="260.54" x2="347.30" y2="260.54" stroke="#000" stroke-width="1.3"/>
<text x="340.60" y="264.64" font-size="12" text-anchor="end" fill="#000" font-weight="bold" textLength="27.60" lengthAdjust="spacingAndGlyphs">-0.08</text>
<line x1="344.10" y1="251.55" x2="346.10" y2="251.55" stroke="#000" stroke-width="1.1"/>
<line x1="344.10" y1="242.56" x2="347.30" y2="242.56" stroke="#000" stroke-width="1.3"/>
<text x="340.60" y="246.66" font-size="12" text-anchor="end" fill="#000" font-weight="bold" textLength="27.60" lengthAdjust="spacingAndGlyphs">-0.09</text>
<line x1="344.10" y1="233.57" x2="346.10" y2="233.57" stroke="#000" stroke-width="1.1"/>
<line x1="344.10" y1="224.58" x2="347.30" y2="224.58" stroke="#000" stroke-width="1.3"/>
<text x="340.60" y="228.68" font-size="12" text-anchor="end" fill="#000" font-weight="bold" textLength="27.60" lengthAdjust="spacingAndGlyphs">-0.10</text>
<line x1="351.00" y1="386.20" x2="351.00" y2="383.00" stroke="#000" stroke-width="1.3"/>
<text x="351.20" y="401.60" font-size="12.8" text-anchor="middle" fill="#000" font-weight="bold">10<tspan font-size="8.00" dy="-5.0">0</tspan></text>
<line x1="357.77" y1="386.20" x2="357.77" y2="384.40" stroke="#000" stroke-width="0.7"/>
<line x1="361.74" y1="386.20" x2="361.74" y2="384.40" stroke="#000" stroke-width="0.7"/>
<line x1="364.55" y1="386.20" x2="364.55" y2="384.40" stroke="#000" stroke-width="0.7"/>
<line x1="366.73" y1="386.20" x2="366.73" y2="384.40" stroke="#000" stroke-width="0.7"/>
<line x1="368.51" y1="386.20" x2="368.51" y2="384.40" stroke="#000" stroke-width="0.7"/>
<line x1="370.01" y1="386.20" x2="370.01" y2="384.40" stroke="#000" stroke-width="0.7"/>
<line x1="371.32" y1="386.20" x2="371.32" y2="384.40" stroke="#000" stroke-width="0.7"/>
<line x1="372.47" y1="386.20" x2="372.47" y2="384.40" stroke="#000" stroke-width="0.7"/>
<line x1="373.50" y1="386.20" x2="373.50" y2="383.00" stroke="#000" stroke-width="1.3"/>
<text x="373.70" y="401.60" font-size="12.8" text-anchor="middle" fill="#000" font-weight="bold">10<tspan font-size="8.00" dy="-5.0">1</tspan></text>
<line x1="380.27" y1="386.20" x2="380.27" y2="384.40" stroke="#000" stroke-width="0.7"/>
<line x1="384.24" y1="386.20" x2="384.24" y2="384.40" stroke="#000" stroke-width="0.7"/>
<line x1="387.05" y1="386.20" x2="387.05" y2="384.40" stroke="#000" stroke-width="0.7"/>
<line x1="389.23" y1="386.20" x2="389.23" y2="384.40" stroke="#000" stroke-width="0.7"/>
<line x1="391.01" y1="386.20" x2="391.01" y2="384.40" stroke="#000" stroke-width="0.7"/>
<line x1="392.51" y1="386.20" x2="392.51" y2="384.40" stroke="#000" stroke-width="0.7"/>
<line x1="393.82" y1="386.20" x2="393.82" y2="384.40" stroke="#000" stroke-width="0.7"/>
<line x1="394.97" y1="386.20" x2="394.97" y2="384.40" stroke="#000" stroke-width="0.7"/>
<line x1="396.00" y1="386.20" x2="396.00" y2="383.00" stroke="#000" stroke-width="1.3"/>
<text x="396.20" y="401.60" font-size="12.8" text-anchor="middle" fill="#000" font-weight="bold">10<tspan font-size="8.00" dy="-5.0">2</tspan></text>
<line x1="402.77" y1="386.20" x2="402.77" y2="384.40" stroke="#000" stroke-width="0.7"/>
<line x1="406.74" y1="386.20" x2="406.74" y2="384.40" stroke="#000" stroke-width="0.7"/>
<line x1="409.55" y1="386.20" x2="409.55" y2="384.40" stroke="#000" stroke-width="0.7"/>
<line x1="411.73" y1="386.20" x2="411.73" y2="384.40" stroke="#000" stroke-width="0.7"/>
<line x1="413.51" y1="386.20" x2="413.51" y2="384.40" stroke="#000" stroke-width="0.7"/>
<line x1="415.01" y1="386.20" x2="415.01" y2="384.40" stroke="#000" stroke-width="0.7"/>
<line x1="416.32" y1="386.20" x2="416.32" y2="384.40" stroke="#000" stroke-width="0.7"/>
<line x1="417.47" y1="386.20" x2="417.47" y2="384.40" stroke="#000" stroke-width="0.7"/>
<line x1="418.50" y1="386.20" x2="418.50" y2="383.00" stroke="#000" stroke-width="1.3"/>
<text x="418.70" y="401.60" font-size="12.8" text-anchor="middle" fill="#000" font-weight="bold">10<tspan font-size="8.00" dy="-5.0">3</tspan></text>
<line x1="425.27" y1="386.20" x2="425.27" y2="384.40" stroke="#000" stroke-width="0.7"/>
<line x1="429.24" y1="386.20" x2="429.24" y2="384.40" stroke="#000" stroke-width="0.7"/>
<line x1="432.05" y1="386.20" x2="432.05" y2="384.40" stroke="#000" stroke-width="0.7"/>
<line x1="434.23" y1="386.20" x2="434.23" y2="384.40" stroke="#000" stroke-width="0.7"/>
<line x1="436.01" y1="386.20" x2="436.01" y2="384.40" stroke="#000" stroke-width="0.7"/>
<line x1="437.51" y1="386.20" x2="437.51" y2="384.40" stroke="#000" stroke-width="0.7"/>
<line x1="438.82" y1="386.20" x2="438.82" y2="384.40" stroke="#000" stroke-width="0.7"/>
<line x1="439.97" y1="386.20" x2="439.97" y2="384.40" stroke="#000" stroke-width="0.7"/>
<line x1="441.00" y1="386.20" x2="441.00" y2="383.00" stroke="#000" stroke-width="1.3"/>
<text x="441.20" y="401.60" font-size="12.8" text-anchor="middle" fill="#000" font-weight="bold">10<tspan font-size="8.00" dy="-5.0">4</tspan></text>
<line x1="447.77" y1="386.20" x2="447.77" y2="384.40" stroke="#000" stroke-width="0.7"/>
<line x1="451.74" y1="386.20" x2="451.74" y2="384.40" stroke="#000" stroke-width="0.7"/>
<line x1="454.55" y1="386.20" x2="454.55" y2="384.40" stroke="#000" stroke-width="0.7"/>
<line x1="456.73" y1="386.20" x2="456.73" y2="384.40" stroke="#000" stroke-width="0.7"/>
<line x1="458.51" y1="386.20" x2="458.51" y2="384.40" stroke="#000" stroke-width="0.7"/>
<line x1="460.01" y1="386.20" x2="460.01" y2="384.40" stroke="#000" stroke-width="0.7"/>
<line x1="461.32" y1="386.20" x2="461.32" y2="384.40" stroke="#000" stroke-width="0.7"/>
<line x1="462.47" y1="386.20" x2="462.47" y2="384.40" stroke="#000" stroke-width="0.7"/>
<line x1="463.50" y1="386.20" x2="463.50" y2="383.00" stroke="#000" stroke-width="1.3"/>
<text x="463.70" y="401.60" font-size="12.8" text-anchor="middle" fill="#000" font-weight="bold">10<tspan font-size="8.00" dy="-5.0">5</tspan></text>
<line x1="470.27" y1="386.20" x2="470.27" y2="384.40" stroke="#000" stroke-width="0.7"/>
<line x1="474.24" y1="386.20" x2="474.24" y2="384.40" stroke="#000" stroke-width="0.7"/>
<line x1="477.05" y1="386.20" x2="477.05" y2="384.40" stroke="#000" stroke-width="0.7"/>
<line x1="479.23" y1="386.20" x2="479.23" y2="384.40" stroke="#000" stroke-width="0.7"/>
<line x1="481.01" y1="386.20" x2="481.01" y2="384.40" stroke="#000" stroke-width="0.7"/>
<line x1="482.51" y1="386.20" x2="482.51" y2="384.40" stroke="#000" stroke-width="0.7"/>
<line x1="483.82" y1="386.20" x2="483.82" y2="384.40" stroke="#000" stroke-width="0.7"/>
<line x1="484.97" y1="386.20" x2="484.97" y2="384.40" stroke="#000" stroke-width="0.7"/>
<line x1="486.00" y1="386.20" x2="486.00" y2="383.00" stroke="#000" stroke-width="1.3"/>
<text x="486.20" y="401.60" font-size="12.8" text-anchor="middle" fill="#000" font-weight="bold">10<tspan font-size="8.00" dy="-5.0">6</tspan></text>
<line x1="492.77" y1="386.20" x2="492.77" y2="384.40" stroke="#000" stroke-width="0.7"/>
<line x1="496.74" y1="386.20" x2="496.74" y2="384.40" stroke="#000" stroke-width="0.7"/>
<line x1="499.55" y1="386.20" x2="499.55" y2="384.40" stroke="#000" stroke-width="0.7"/>
<line x1="501.73" y1="386.20" x2="501.73" y2="384.40" stroke="#000" stroke-width="0.7"/>
<line x1="503.51" y1="386.20" x2="503.51" y2="384.40" stroke="#000" stroke-width="0.7"/>
<line x1="505.01" y1="386.20" x2="505.01" y2="384.40" stroke="#000" stroke-width="0.7"/>
<line x1="506.32" y1="386.20" x2="506.32" y2="384.40" stroke="#000" stroke-width="0.7"/>
<line x1="507.47" y1="386.20" x2="507.47" y2="384.40" stroke="#000" stroke-width="0.7"/>
<line x1="508.50" y1="386.20" x2="508.50" y2="383.00" stroke="#000" stroke-width="1.3"/>
<text x="508.70" y="401.60" font-size="12.8" text-anchor="middle" fill="#000" font-weight="bold">10<tspan font-size="8.00" dy="-5.0">7</tspan></text>
<line x1="515.27" y1="386.20" x2="515.27" y2="384.40" stroke="#000" stroke-width="0.7"/>
<line x1="519.24" y1="386.20" x2="519.24" y2="384.40" stroke="#000" stroke-width="0.7"/>
<line x1="522.05" y1="386.20" x2="522.05" y2="384.40" stroke="#000" stroke-width="0.7"/>
<line x1="524.23" y1="386.20" x2="524.23" y2="384.40" stroke="#000" stroke-width="0.7"/>
<line x1="526.01" y1="386.20" x2="526.01" y2="384.40" stroke="#000" stroke-width="0.7"/>
<line x1="527.51" y1="386.20" x2="527.51" y2="384.40" stroke="#000" stroke-width="0.7"/>
<line x1="528.82" y1="386.20" x2="528.82" y2="384.40" stroke="#000" stroke-width="0.7"/>
<line x1="529.97" y1="386.20" x2="529.97" y2="384.40" stroke="#000" stroke-width="0.7"/>
<line x1="531.00" y1="386.20" x2="531.00" y2="383.00" stroke="#000" stroke-width="1.3"/>
<text x="531.20" y="401.60" font-size="12.8" text-anchor="middle" fill="#000" font-weight="bold">10<tspan font-size="8.00" dy="-5.0">8</tspan></text>
<line x1="537.77" y1="386.20" x2="537.77" y2="384.40" stroke="#000" stroke-width="0.7"/>
<line x1="541.74" y1="386.20" x2="541.74" y2="384.40" stroke="#000" stroke-width="0.7"/>
<line x1="346.01" y1="386.20" x2="346.01" y2="384.40" stroke="#000" stroke-width="0.7"/>
<line x1="347.51" y1="386.20" x2="347.51" y2="384.40" stroke="#000" stroke-width="0.7"/>
<line x1="348.82" y1="386.20" x2="348.82" y2="384.40" stroke="#000" stroke-width="0.7"/>
<line x1="349.97" y1="386.20" x2="349.97" y2="384.40" stroke="#000" stroke-width="0.7"/>
<text x="307.50" y="305.60" font-size="16.2" text-anchor="middle" fill="#000" font-weight="bold" transform="rotate(-90 307.50 305.60)" textLength="102.00" lengthAdjust="spacingAndGlyphs">Current (mA)</text>
<text x="445.00" y="416.90" font-size="16" text-anchor="middle" fill="#000" font-weight="bold" textLength="62.20" lengthAdjust="spacingAndGlyphs">Time (s)</text>
<polyline points="351.00,256.30 396.00,257.00 402.77,258.80 411.73,248.00 418.50,247.40 425.27,247.40 434.23,247.80 441.00,248.80 447.77,250.20" fill="none" stroke="#000" stroke-width="1.6" stroke-linejoin="round"/>
<line x1="449.77" y1="250.50" x2="537.50" y2="261.50" stroke="#000" stroke-width="1.5" stroke-dasharray="5,3.4"/>
<circle cx="351.00" cy="256.30" r="3.2" fill="url(#gk)"/>
<circle cx="396.00" cy="257.00" r="3.2" fill="url(#gk)"/>
<circle cx="402.77" cy="258.80" r="3.2" fill="url(#gk)"/>
<circle cx="411.73" cy="248.00" r="3.2" fill="url(#gk)"/>
<circle cx="418.50" cy="247.40" r="3.2" fill="url(#gk)"/>
<circle cx="425.27" cy="247.40" r="3.2" fill="url(#gk)"/>
<circle cx="434.23" cy="247.80" r="3.2" fill="url(#gk)"/>
<circle cx="441.00" cy="248.80" r="3.2" fill="url(#gk)"/>
<circle cx="447.77" cy="250.20" r="3.2" fill="url(#gk)"/>
<polyline points="351.00,352.50 396.00,352.50 402.77,354.00 411.73,354.50 418.50,354.50 425.27,353.80 434.23,355.80 441.00,356.30 447.77,357.10" fill="none" stroke="#ee1111" stroke-width="1.6" stroke-linejoin="round"/>
<line x1="449.77" y1="357.40" x2="537.50" y2="361.70" stroke="#ee1111" stroke-width="1.5" stroke-dasharray="5,3.4"/>
<circle cx="351.00" cy="352.50" r="3.2" fill="url(#gr)"/>
<circle cx="396.00" cy="352.50" r="3.2" fill="url(#gr)"/>
<circle cx="402.77" cy="354.00" r="3.2" fill="url(#gr)"/>
<circle cx="411.73" cy="354.50" r="3.2" fill="url(#gr)"/>
<circle cx="418.50" cy="354.50" r="3.2" fill="url(#gr)"/>
<circle cx="425.27" cy="353.80" r="3.2" fill="url(#gr)"/>
<circle cx="434.23" cy="355.80" r="3.2" fill="url(#gr)"/>
<circle cx="441.00" cy="356.30" r="3.2" fill="url(#gr)"/>
<circle cx="447.77" cy="357.10" r="3.2" fill="url(#gr)"/>
<rect x="356.2" y="277.6" width="117.6" height="30.6" fill="#fff" stroke="#c8c8c8" stroke-width="1"/>
<line x1="357.20" y1="286.90" x2="375.90" y2="286.90" stroke="#000" stroke-width="1.5"/>
<circle cx="366.50" cy="286.90" r="2.8" fill="url(#gk)"/>
<text x="380.20" y="290.00" font-size="12" text-anchor="start" fill="#000" font-weight="bold" textLength="92.30" lengthAdjust="spacingAndGlyphs">On state current</text>
<line x1="357.20" y1="301.70" x2="375.90" y2="301.70" stroke="#ee1111" stroke-width="1.5"/>
<circle cx="366.50" cy="301.70" r="2.8" fill="url(#gr)"/>
<text x="380.20" y="304.80" font-size="12" text-anchor="start" fill="#000" font-weight="bold" textLength="92.30" lengthAdjust="spacingAndGlyphs">Off state current</text>
<text x="542.70" y="250.40" font-size="11.8" text-anchor="end" fill="#000" font-weight="bold" textLength="47.20" lengthAdjust="spacingAndGlyphs">10 years</text>
<text x="415.10" y="328.70" font-size="12" text-anchor="middle" fill="#000" font-weight="bold" textLength="66.70" lengthAdjust="spacingAndGlyphs">Read @ -7V</text>
<text x="473.80" y="326.60" font-size="10.5" text-anchor="start" fill="#000" font-weight="bold" textLength="56.80" lengthAdjust="spacingAndGlyphs">Device size:</text>
<text x="473.80" y="339.50" font-size="10.5" text-anchor="start" fill="#000" font-weight="bold" textLength="47.90" lengthAdjust="spacingAndGlyphs">d = 1.5 um</text>
<text x="359.30" y="246.80" font-size="18.3" text-anchor="start" fill="#000" font-weight="bold" textLength="23.50" lengthAdjust="spacingAndGlyphs">(d)</text>
</g>
</svg>
</body>
</html>
